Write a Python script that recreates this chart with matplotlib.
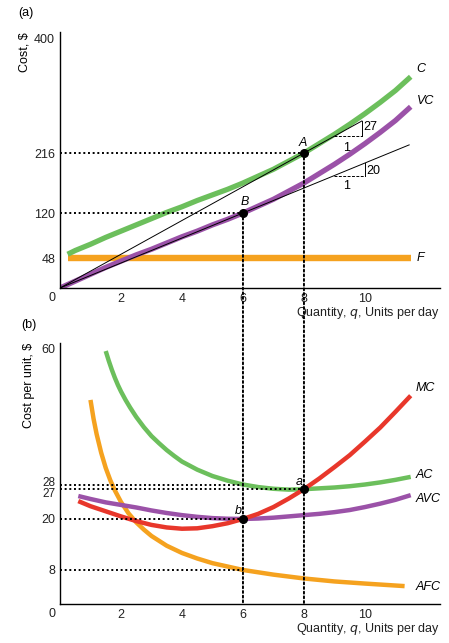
import matplotlib.pyplot as plt
from matplotlib.patches import ConnectionPatch
from matplotlib.transforms import ScaledTranslation

plt.rcParams['font.family'] = ['Liberation Sans', 'DejaVu Sans']
plt.rcParams['font.size'] = 9

# (a) total cost curves
q_vc = [0, 0.5, 1, 1.5, 2, 2.5, 3, 3.5, 4, 4.5, 5, 5.5, 6, 6.5, 7, 7.5, 8,
        8.5, 9, 9.5, 10, 10.5, 11, 11.5]
vc = [0, 11, 22, 33, 43, 53, 62, 72, 82, 91, 101, 110, 120, 131, 142, 155, 168,
      183, 198, 214, 231, 249, 268, 290]
q_c = [0.25, 0.5, 1, 1.5, 2, 2.5, 3, 3.5, 4, 4.5, 5, 5.5, 6, 6.5, 7, 7.5, 8,
       8.5, 9, 9.5, 10, 10.5, 11, 11.5]
c = [54, 60, 70, 81, 91, 101, 111, 121, 130, 140, 149, 158, 168, 179, 190, 203,
     216, 231, 246, 262, 279, 297, 316, 338]
q_f = [0.25, 11.5]
f = [48, 48]
slope_a = 27   # ray through A
slope_b = 20   # ray through B
ray_a_end = 9.9
ray_b_end = 11.45

# (b) per-unit cost curves
q_ac = [1.5, 1.6, 1.7, 1.8, 1.9, 2, 2.15, 2.3, 2.5, 2.75, 3, 3.25, 3.5, 3.75,
        4, 4.5, 5, 5.5, 6, 6.5, 7, 7.5, 8, 8.5, 9, 9.5, 10, 10.5, 11, 11.5]
ac = [59.5, 57.2, 55.1, 53.2, 51.5, 50, 48, 46.2, 44, 41.6, 39.5, 37.8, 36.2,
      34.8, 33.5, 31.6, 30.1, 29.0, 28.1, 27.5, 27.1, 26.9, 27.0, 27.2, 27.4,
      27.7, 28.1, 28.6, 29.2, 29.9]
q_afc = [1, 1.1, 1.2, 1.35, 1.5, 1.65, 1.8, 2, 2.25, 2.5, 2.75, 3, 3.5, 4, 4.5,
         5, 6, 7, 8, 9, 10, 11.3]
afc = [48, 43.6, 40, 35.6, 32, 29.1, 26.7, 24, 21.3, 19.2, 17.5, 16, 13.7, 12,
       10.7, 9.6, 8, 6.9, 6, 5.3, 4.8, 4.2]
q_v = [0.6, 1, 1.5, 2, 2.5, 3, 3.5, 4, 4.5, 5, 5.5, 6, 6.5, 7, 7.5, 8, 8.5,
       9, 9.5, 10, 10.5, 11, 11.5]
avc = [25.4, 24.7, 23.9, 23.3, 22.7, 22.0, 21.4, 20.9, 20.5, 20.2, 20.05, 20.0,
       20.1, 20.3, 20.6, 20.9, 21.2, 21.6, 22.1, 22.8, 23.6, 24.5, 25.6]
mc = [24.2, 23.0, 21.8, 20.6, 19.5, 18.6, 18.0, 17.7, 17.8, 18.3, 19.0, 20.0,
      21.2, 22.8, 24.8, 27.0, 29.5, 32.2, 35.0, 38.2, 41.5, 45.2, 49.0]

green = '#6cbf5c'
purple = '#9b52a8'
orange = '#f5a21f'
red = '#e8372b'
dots = (0, (1, 1.4))

fig = plt.figure(figsize=(4.49, 6.43), dpi=100)
ax1 = fig.add_axes([0.1336, 0.5521, 0.8463, 0.3981])
ax2 = fig.add_axes([0.1336, 0.0607, 0.8463, 0.4059])

for ax in (ax1, ax2):
    ax.spines['top'].set_visible(False)
    ax.spines['right'].set_visible(False)
    ax.spines['left'].set_linewidth(1)
    ax.spines['bottom'].set_linewidth(1)
    ax.set_xlim(0, 12.46)
    ax.set_xticks([2, 4, 6, 8, 10])
    ax.tick_params(length=0, pad=3.5, labelsize=9, colors='#222222')
    ax.annotate('0', xy=(0, 0), xycoords='axes fraction', xytext=(-5.5, -7),
                textcoords='offset points', ha='center', va='center',
                fontsize=9, color='#222222')
    ax.annotate('Quantity, $q$, Units per day', xy=(1, 0), xycoords='axes fraction',
                xytext=(0, -18), textcoords='offset points', ha='right',
                va='center', fontsize=9, color='#222222')

# ---- panel (a)
ax1.set_ylim(0, 409.6)
ax1.set_yticks([48, 120, 216, 400])
ax1.set_ylabel('Cost, $', loc='top', fontsize=9)
ax1.yaxis.set_label_coords(-0.078, 1.0)

ax1.plot(q_f, f, color=orange, lw=4.6, solid_capstyle='butt')
ax1.plot(q_c, c, color=green, lw=3.8, solid_capstyle='butt')
ax1.plot(q_vc, vc, color=purple, lw=3.8, solid_capstyle='butt')
ax1.plot([0, ray_a_end], [0, slope_a * ray_a_end], color='black', lw=0.7)
ax1.plot([0, ray_b_end], [0, slope_b * ray_b_end], color='black', lw=0.7)

# slope triangles
ax1.plot([9, ray_a_end], [9 * slope_a, 9 * slope_a], color='black', lw=0.7, ls=(0, (3, 1.5)))
ax1.plot([ray_a_end, ray_a_end], [9 * slope_a, ray_a_end * slope_a], color='black', lw=0.7)
ax1.text(ray_a_end + 0.05, 258, '27', fontsize=9, va='center', ha='left')
ax1.text(9.4, 224, '1', fontsize=9, va='center', ha='center')
ax1.plot([9, 10], [9 * slope_b, 9 * slope_b], color='black', lw=0.7, ls=(0, (3, 1.5)))
ax1.plot([10, 10], [9 * slope_b, 10 * slope_b], color='black', lw=0.7)
ax1.text(10.05, 188, '20', fontsize=9, va='center', ha='left')
ax1.text(9.4, 164, '1', fontsize=9, va='center', ha='center')

ax1.plot([0, 8], [216, 216], color='black', lw=1.4, ls=dots)
ax1.plot([0, 6], [120, 120], color='black', lw=1.4, ls=dots)
ax1.plot([8, 6], [216, 120], 'o', color='black', ms=5.5, zorder=5)
ax1.text(7.95, 232, 'A', fontsize=9, style='italic', ha='center', va='center')
ax1.text(6.05, 137, 'B', fontsize=9, style='italic', ha='center', va='center')

ax1.text(11.69, 350, 'C', fontsize=9, style='italic', va='center')
ax1.text(11.69, 300, 'VC', fontsize=9, style='italic', va='center')
ax1.text(11.69, 48, 'F', fontsize=9, style='italic', va='center')
fig.text(26 / 449, 1 - 13 / 643, '(a)', fontsize=9, ha='center', va='center')

# ---- panel (b)
ax2.set_ylim(0, 61.4)
ax2.set_yticks([8, 20, 27, 28, 60])
ax2.set_ylabel('Cost per unit, $', loc='top', fontsize=9)
ax2.yaxis.set_label_coords(-0.066, 1.0)
# 27 and 28 sit very close: nudge their labels apart
for lab in ax2.get_yticklabels():
    if lab.get_text() == '28':
        lab.set_transform(lab.get_transform() + ScaledTranslation(0, 2.5 / 72, fig.dpi_scale_trans))
        lab.set_fontsize(8.5)
    elif lab.get_text() == '27':
        lab.set_transform(lab.get_transform() + ScaledTranslation(0, -2.5 / 72, fig.dpi_scale_trans))
        lab.set_fontsize(8.5)

ax2.plot(q_afc, afc, color=orange, lw=3.2, solid_capstyle='butt')
ax2.plot(q_ac, ac, color=green, lw=3.2, solid_capstyle='butt')
ax2.plot(q_v, avc, color=purple, lw=3.2, solid_capstyle='butt')
ax2.plot(q_v, mc, color=red, lw=3.2, solid_capstyle='butt')

ax2.plot([0, 6], [28, 28], color='black', lw=1.4, ls=dots)
ax2.plot([0, 8], [27, 27], color='black', lw=1.4, ls=dots)
ax2.plot([0, 6], [20, 20], color='black', lw=1.4, ls=dots)
ax2.plot([0, 6], [8, 8], color='black', lw=1.4, ls=dots)
ax2.plot([8, 6], [27, 20], 'o', color='black', ms=5.5, zorder=5)
ax2.text(7.85, 28.6, 'a', fontsize=9, style='italic', ha='center', va='center')
ax2.text(5.85, 21.9, 'b', fontsize=9, style='italic', ha='center', va='center')

ax2.text(11.65, 50.7, 'MC', fontsize=9, style='italic', va='center')
ax2.text(11.65, 30.4, 'AC', fontsize=9, style='italic', va='center')
ax2.text(11.65, 24.6, 'AVC', fontsize=9, style='italic', va='center')
ax2.text(11.65, 4.1, 'AFC', fontsize=9, style='italic', va='center')
fig.text(29 / 449, 1 - 325 / 643, '(b)', fontsize=9, ha='center', va='center')

# vertical dotted lines running through both panels
for qq, top in [(6, 120), (8, 216)]:
    con = ConnectionPatch(xyA=(qq, top), coordsA=ax1.transData,
                          xyB=(qq, 0), coordsB=ax2.transData,
                          color='black', lw=1.4, ls=dots)
    fig.add_artist(con)

fig.savefig('out.png', dpi=100)
